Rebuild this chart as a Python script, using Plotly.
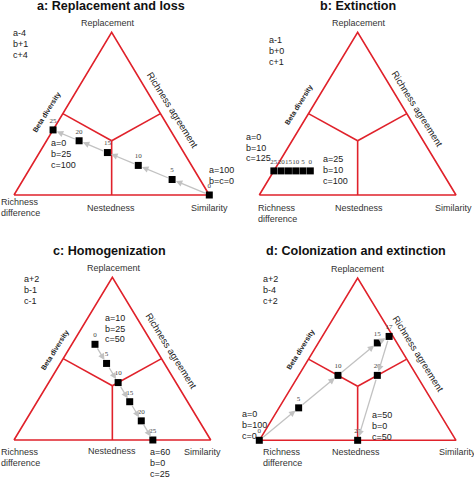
import plotly.graph_objects as go

FIG_W, FIG_H = 474, 478
OFF = 0

# ---------------- data (species counts a = shared, b, c = unique) ----------------
# panel a: Replacement and loss
A_steps = [0, 5, 10, 15, 20, 25]
A_a = [100, 80, 60, 40, 20, 0]
A_b = [0, 5, 10, 15, 20, 25]
A_c = [0, 20, 40, 60, 80, 100]
# panel b: Extinction
B_steps = [0, 5, 10, 15, 20, 25]
B_a = [25, 20, 15, 10, 5, 0]
B_b = [10, 10, 10, 10, 10, 10]
B_c = [100, 105, 110, 115, 120, 125]
# panel c: Homogenization
C_steps = [0, 5, 10, 15, 20, 25]
C_a = [10, 20, 30, 40, 50, 60]
C_b = [25, 20, 15, 10, 5, 0]
C_c = [50, 45, 40, 35, 30, 25]
# panel d: Colonization and extinction
D_steps = [0, 5, 10, 15, 17, 20, 25]
D_a = [0, 10, 20, 30, 34, 40, 50]
D_b = [100, 80, 60, 40, 32, 20, 0]
D_c = [0, 10, 20, 30, 34, 40, 50]

titles = ["a: Replacement and loss", "b: Extinction", "c: Homogenization",
          "d: Colonization and extinction"]
rules = [["a-4", "b+1", "c+4"], ["a-1", "b+0", "c+1"], ["a+2", "b-1", "c-1"], ["a+2", "b-4", "c+2"]]

# simplex frame compositions (Replacement, Richness difference, Similarity)
corners = [(0, 1, 0), (0, 0, 1), (1, 0, 0), (0, 1, 0)]
centroid = (1 / 3, 1 / 3, 1 / 3)
midpoints = [(0.5, 0.5, 0), (0.5, 0, 0.5), (0, 0.5, 0.5)]

RED = "#e0222b"
GREY = "#c2c2c2"
FONT = "Liberation Sans, Arial, sans-serif"
SERIF = "Liberation Serif, Times New Roman, serif"


def sdr(a, b, c):
    n = a + b + c
    return 2 * min(b, c) / n, abs(b - c) / n, a / n


def to_xy(comp):
    R, D, S = comp
    t = R + D + S
    return (S + R / 2) / t, R / t


# triangle placement in page pixels: (left x, right x, bottom y, top y)
geom = [(14, 209.3, 195, 32.3), (259.3, 456, 195, 32.3),
        (14, 210.7, 440, 277.3), (259.3, 456, 440.3, 278)]
PAD = 0.06

panels = [(A_steps, A_a, A_b, A_c), (B_steps, B_a, B_b, B_c),
          (C_steps, C_a, C_b, C_c), (D_steps, D_a, D_b, D_c)]

fig = go.Figure()
annotations = []


def P(px, py):
    return (px - OFF) / FIG_W, 1 - (py - OFF) / FIG_H


def txt(px, py, text, size=9, xanchor="center", angle=0, bold=False, color="#222"):
    x, y = P(px, py)
    annotations.append(dict(
        x=x, y=y, xref="paper", yref="paper", text=("<b>%s</b>" % text) if bold else text,
        showarrow=False, xanchor=xanchor, yanchor="middle", textangle=angle,
        font=dict(family=FONT, size=size, color=color)))


layout_axes = {}
for k, ((steps, aa, bb, cc), (lx, rx, by, ty)) in enumerate(zip(panels, geom)):
    idx = "" if k == 0 else str(k + 1)
    xa, ya = "x" + idx, "y" + idx
    w, h = rx - lx, by - ty
    d0 = max(OFF + 0.5, lx - PAD * w)
    d1 = min(OFF + FIG_W - 0.5, rx + PAD * w)
    e0 = min(OFF + FIG_H - 0.5, by + PAD * h)  # bottom
    e1 = max(OFF + 0.5, ty - PAD * h)          # top
    layout_axes["xaxis" + idx] = dict(
        domain=[(d0 - OFF) / FIG_W, (d1 - OFF) / FIG_W],
        range=[(d0 - lx) / w, (d1 - lx) / w], visible=False, fixedrange=True)
    layout_axes["yaxis" + idx] = dict(
        domain=[1 - (e0 - OFF) / FIG_H, 1 - (e1 - OFF) / FIG_H],
        range=[(by - e0) / h, (by - e1) / h], visible=False, fixedrange=True)

    # triangle outline
    cx = [to_xy(c)[0] for c in corners]
    cy = [to_xy(c)[1] for c in corners]
    fig.add_trace(go.Scatter(x=cx, y=cy, mode="lines", line=dict(color=RED, width=1.6),
                             xaxis=xa, yaxis=ya, hoverinfo="skip"))
    # interior partition lines
    gx, gy = [], []
    c0 = to_xy(centroid)
    for m in midpoints:
        mx, my = to_xy(m)
        gx += [c0[0], mx, None]
        gy += [c0[1], my, None]
    fig.add_trace(go.Scatter(x=gx, y=gy, mode="lines", line=dict(color=RED, width=1.6),
                             xaxis=xa, yaxis=ya, hoverinfo="skip"))

    # points
    pts = [to_xy(sdr(a, b, c)) for a, b, c in zip(aa, bb, cc)]
    px_ = [p[0] for p in pts]
    py_ = [p[1] for p in pts]

    # arrows between consecutive states
    if k != 1:
        for i in range(len(pts) - 1):
            annotations.append(dict(
                x=px_[i + 1], y=py_[i + 1], ax=px_[i], ay=py_[i],
                xref=xa, yref=ya, axref=xa, ayref=ya, text="", showarrow=True,
                arrowhead=2, arrowsize=1, arrowwidth=1.3, arrowcolor=GREY,
                standoff=4, startstandoff=3))

    fig.add_trace(go.Scatter(
        x=px_, y=py_, mode="markers+text", text=[str(s) for s in steps],
        textposition="top center",
        textfont=dict(family=SERIF, size=7, color="#444"),
        marker=dict(symbol="square", size=7, color="black"),
        cliponaxis=False, xaxis=xa, yaxis=ya, hoverinfo="skip"))

# ---------------- texts ----------------
title_pos = [(110.8, 6.5), (358.3, 6.5), (109.7, 250.7), (356.2, 250.7)]
for (x, y), t in zip(title_pos, titles):
    txt(x, y, t, size=12.6, bold=True, color="#111")

repl_pos = [(108.3, 22.7), (359, 22.7), (113.7, 267.7), (358.3, 269)]
for x, y in repl_pos:
    txt(x, y, "Replacement", color="#333")

nest_pos = [(110.7, 207.7), (359.3, 208), (112.2, 450.7), (356.2, 452.3)]
for x, y in nest_pos:
    txt(x, y, "Nestedness", color="#333")

txt(209, 208.3, "Similarity", color="#333")
txt(453, 208.3, "Similarity", color="#333")
txt(202, 452.3, "Similarity", color="#333")
txt(437, 452.3, "Similarity", xanchor="left", color="#333")

rd_pos = [(-1.5, 202.3, 213.3), (256, 208.3, 219), (-1.5, 452.3, 463), (261, 452.3, 463)]
for x, y1, y2 in rd_pos:
    txt(x, y1, "Richness", xanchor="left", color="#333")
    txt(x, y2, "difference", xanchor="left", color="#333")

ra_pos = [(172.2, 109.8), (417.3, 108.3), (171.2, 350.3), (418.3, 353.2)]
for x, y in ra_pos:
    txt(x, y, "Richness agreement", size=9.5, angle=58, color="#222")

bd_pos = [(47.3, 112.3), (299, 105), (55.3, 350), (300.7, 350)]
for x, y in bd_pos:
    txt(x, y, "Beta diversity", size=7, angle=-58, bold=True, color="#222")

rule_pos = [(10.7, 33.3), (267, 40), (21.7, 279), (261, 279)]
for (x, y), r in zip(rule_pos, rules):
    for j, line in enumerate(r):
        txt(x, y + j * 10.8, line, xanchor="left", color="#222")

state_labels = [
    (49.3, 143.3, ["a=0", "b=25", "c=100"]),
    (206.7, 170, ["a=100", "b=c=0"]),
    (244.3, 136.7, ["a=0", "b=10", "c=125"]),
    (321.3, 159.3, ["a=25", "b=10", "c=100"]),
    (102.7, 317.7, ["a=10", "b=25", "c=50"]),
    (147.7, 452.3, ["a=60", "b=0", "c=25"]),
    (239.7, 414, ["a=0", "b=100", "c=0"]),
    (370.3, 415, ["a=50", "b=0", "c=50"]),
]
for x, y, lines in state_labels:
    for j, line in enumerate(lines):
        txt(x, y + j * 10.8, line, xanchor="left", color="#222")

fig.update_layout(
    width=FIG_W, height=FIG_H, margin=dict(l=0, r=0, t=0, b=0),
    paper_bgcolor="white", plot_bgcolor="white", showlegend=False,
    annotations=annotations, **layout_axes)

fig.write_html("out.html", config={"displayModeBar": False},
               post_script="document.body.style.margin='0';"
                           "document.body.style.overflow='hidden';")
